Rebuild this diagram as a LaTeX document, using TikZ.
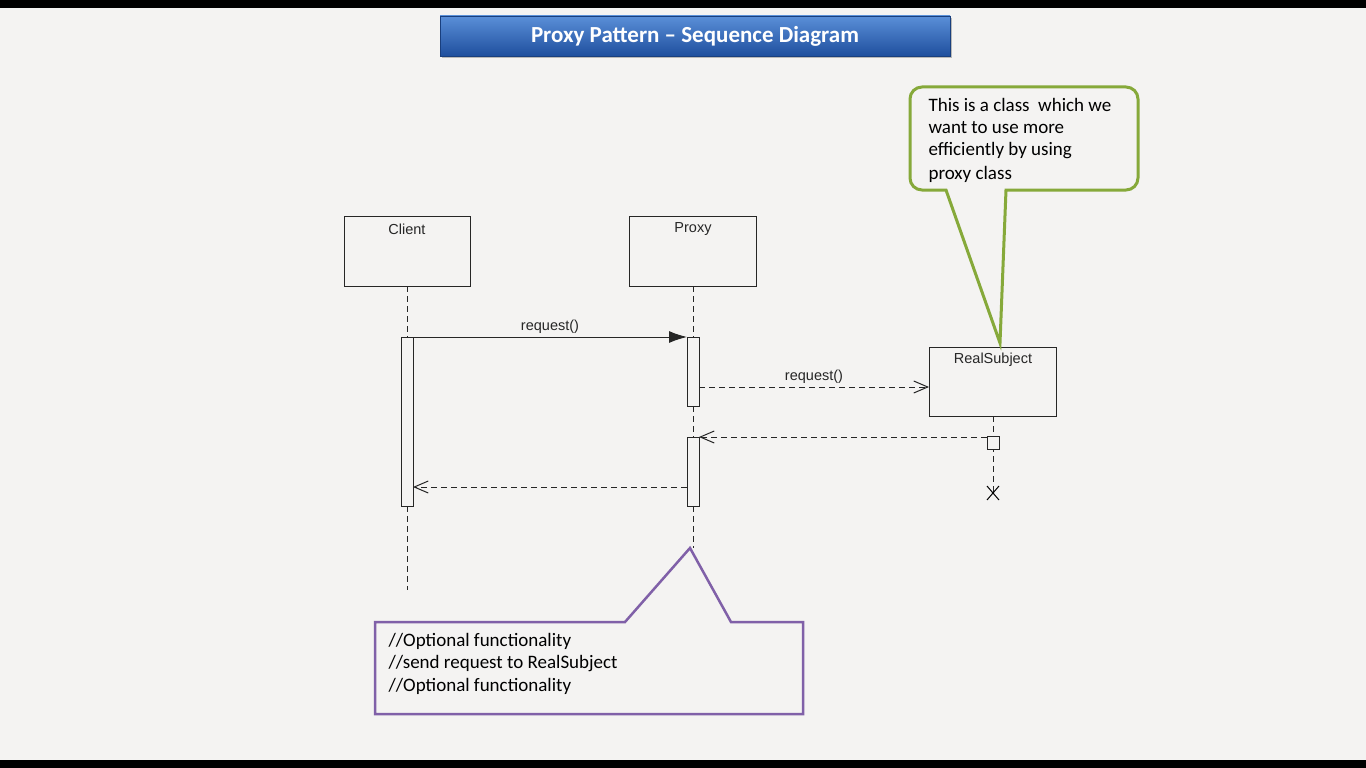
\documentclass[tikz,border=0pt]{standalone}
\usepackage{fontspec}
\setmainfont{Carlito}
\newfontfamily\uml{Liberation Sans}
\usetikzlibrary{arrows.meta,shadows}
\definecolor{bg}{HTML}{F4F3F2}
\definecolor{tb1}{HTML}{5A8FD8}
\definecolor{tb2}{HTML}{1F4F9E}
\definecolor{gr}{HTML}{86A93A}
\definecolor{pu}{HTML}{8060A8}
\begin{document}
\begin{tikzpicture}[x=1pt,y=-1pt,
  box/.style={draw=black!85,line width=1pt,fill=bg},
  lbl/.style={font=\uml\fontsize{14.5}{16}\selectfont,text=black!85},
  life/.style={draw=black!85,line width=1pt,dash pattern=on 6pt off 4pt},
  act/.style={draw=black!85,line width=1pt,fill=bg},
  msg/.style={draw=black!85,line width=1pt},
  dmsg/.style={draw=black!85,line width=1pt,dash pattern=on 6pt off 4pt},
  note/.style={font=\fontsize{19}{21}\selectfont,anchor=west}]
\fill[bg] (0,0) rectangle (1366,768);
\useasboundingbox (0,0) rectangle (1366,768);
\fill[black] (0,0) rectangle (1366,8);
\fill[black] (0,760) rectangle (1366,768);
% title
\node[draw=tb2!80!black,top color=tb1,bottom color=tb2,drop shadow,minimum width=510pt,minimum height=40pt,font=\bfseries\fontsize{23}{26}\selectfont,text=white] (title) at (695,36) {Proxy Pattern -- Sequence Diagram};
% classes
\draw[box] (344,216) rectangle (470,286);
\node[lbl] (client) at (407,229) {Client};
\draw[box] (629,216) rectangle (756,286);
\node[lbl] (proxy) at (693,229) {Proxy};
\draw[box] (929,347) rectangle (1056,416);
\node[lbl] (real) at (993,360) {RealSubject};
% lifelines
\coordinate (c0) at (407,286); \coordinate (c1) at (407,590);
\coordinate (p0) at (693,286); \coordinate (p1) at (693,548);
\coordinate (r0) at (993,416); \coordinate (r1) at (993,493);
\draw[life] (c0) -- (c1);
\draw[life] (p0) -- (p1);
\draw[life] (r0) -- (r1);
% activations
\draw[act] (401,337) rectangle (413,506);
\draw[act] (687,337) rectangle (699,406);
\draw[act] (687,437) rectangle (699,506);
\draw[act] (987,436) rectangle (999,449);
\draw[line width=1pt] (987,486) -- (999,500) (999,486) -- (987,500);
% messages
\coordinate (m1a) at (413,337); \coordinate (m1b) at (687,337);
\draw[msg,-{Latex[length=18pt,width=12pt]}] (m1a) -- node[lbl,above=0pt]{request()} (m1b);
\coordinate (m2a) at (699,387); \coordinate (m2b) at (929,387);
\draw[dmsg,-{Straight Barb[length=14pt,width=12pt,line width=1pt]}] (m2a) -- node[lbl,above=0pt]{request()} (m2b);
\coordinate (m3a) at (987,437); \coordinate (m3b) at (699,437);
\draw[dmsg,-{Straight Barb[length=14pt,width=12pt,line width=1pt]}] (m3a) -- (m3b);
\coordinate (m4a) at (687,487); \coordinate (m4b) at (413,487);
\draw[dmsg,-{Straight Barb[length=14pt,width=12pt,line width=1pt]}] (m4a) -- (m4b);
% green note
\draw[gr,line width=3pt,fill=bg,line join=miter] (1006,190) [rounded corners=12pt] -- (1138,190) -- (1138,87) -- (910,87) -- (910,190) [sharp corners] -- (946,190) -- (1000,343) -- cycle;
\node[note] (n1) at (925,105) {This is a class\ \ which we};
\node[note] at (925,128) {want to use more};
\node[note] at (925,151) {efficiently\ by using};
\node[note] at (925,174) {proxy class};
% purple note
\draw[pu,line width=2.5pt,fill=bg] (625,622) -- (690,548) -- (731,622) -- (803,622) -- (803,714) -- (375,714) -- (375,622) -- cycle;
\node[note] (n2) at (385,641) {//Optional functionality};
\node[note] at (385,664) {//send request to RealSubject};
\node[note] at (385,686) {//Optional functionality};
\end{tikzpicture}
\end{document}
